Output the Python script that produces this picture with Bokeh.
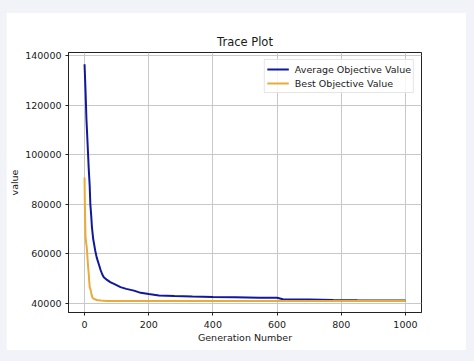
from bokeh.plotting import figure
from bokeh.models import Range1d, FixedTicker, Legend, LegendItem
from bokeh.embed import file_html
from bokeh.resources import INLINE

# ---- data ----
avg_gen = [0, 3, 6, 10, 13, 16, 18, 21, 23, 27, 33, 38, 44, 50, 55, 60, 70, 80, 95,
           112, 130, 154, 175, 200, 232, 280, 336, 400, 470, 545, 600, 618, 700,
           775, 850, 1000]
avg_val = [136500, 126000, 114000, 103000, 94500, 87600, 80200, 75000, 70800, 66000,
           61500, 58500, 56000, 53500, 51800, 50600, 49500, 48600, 47700, 46600,
           45900, 45200, 44300, 43800, 43200, 43000, 42800, 42600, 42500, 42300,
           42300, 41700, 41600, 41400, 41300, 41200]

best_gen = [0, 1, 3, 5, 7, 9, 11, 13, 16, 19, 22, 25, 30, 38, 50, 70, 150, 1000]
best_val = [90800, 80000, 67000, 64500, 62500, 58700, 55000, 52000, 46600, 45500,
            43500, 42300, 41800, 41400, 41200, 41000, 41000, 41000]

x_ticks = [0, 200, 400, 600, 800, 1000]
y_ticks = [40000, 60000, 80000, 100000, 120000, 140000]
y_tick_labels = ["40000", "60000", "80000", "100000", "120000", "140000"]

avg_color = "#10189c"
best_color = "#eaab3a"
font = "DejaVu Sans"
text_color = "#1a1a1a"

p = figure(width=460, height=338, output_backend="svg", toolbar_location=None,
           x_range=Range1d(-50, 1050), y_range=Range1d(36370, 141210),
           min_border_left=58, min_border_right=45, min_border_top=40,
           min_border_bottom=38, margin=(12, 0, 0, 6),
           title="Trace Plot")

p.title.text_font = font
p.title.text_font_size = "11.5px"
p.title.text_font_style = "normal"
p.title.text_color = text_color
p.title.align = "center"
p.title.standoff = 8

p.outline_line_color = "#222222"
p.outline_line_width = 1

for ax in (p.xaxis[0], p.yaxis[0]):
    ax.major_label_text_font = font
    ax.major_label_text_font_size = "9.5px"
    ax.major_label_text_color = text_color
    ax.axis_label_text_font = font
    ax.axis_label_text_font_size = "9.5px"
    ax.axis_label_text_font_style = "normal"
    ax.axis_label_text_color = text_color
    ax.major_tick_out = 3
    ax.major_tick_in = 0
    ax.minor_tick_out = 0
    ax.minor_tick_in = 0
    ax.axis_line_color = "#222222"
    ax.major_tick_line_color = "#222222"

p.xaxis.ticker = FixedTicker(ticks=x_ticks)
p.yaxis.ticker = FixedTicker(ticks=y_ticks)
p.yaxis.major_label_overrides = {t: l for t, l in zip(y_ticks, y_tick_labels)}
p.xaxis.axis_label = "Generation Number"
p.yaxis.axis_label = "value"
p.xaxis.axis_label_standoff = 1
p.yaxis.axis_label_standoff = 2
p.xaxis.major_label_standoff = 5
p.yaxis.major_label_standoff = 4

p.xgrid.grid_line_color = "#c8c8c8"
p.ygrid.grid_line_color = "#c8c8c8"
p.xgrid.grid_line_width = 1
p.ygrid.grid_line_width = 1

r_avg = p.line(avg_gen, avg_val, line_color=avg_color, line_width=2)
r_best = p.line(best_gen, best_val, line_color=best_color, line_width=2)

legend = Legend(items=[LegendItem(label="Average Objective Value", renderers=[r_avg]),
                       LegendItem(label="Best Objective Value", renderers=[r_best])],
                location="top_right")
legend.margin = 7
legend.padding = 2
legend.spacing = 0
legend.label_height = 14
legend.glyph_height = 14
legend.glyph_width = 22
legend.label_standoff = 6
legend.label_text_font = font
legend.label_text_font_size = "9.5px"
legend.label_text_color = text_color
legend.border_line_color = "#cccccc"
legend.background_fill_color = "white"
legend.background_fill_alpha = 0.85
p.add_layout(legend)

html = file_html(p, INLINE, title="Trace Plot")
html = html.replace("</head>",
                    "<style>html, body { background: #f1f3f8 !important; }</style></head>", 1)
open("out.html", "w").write(html)
